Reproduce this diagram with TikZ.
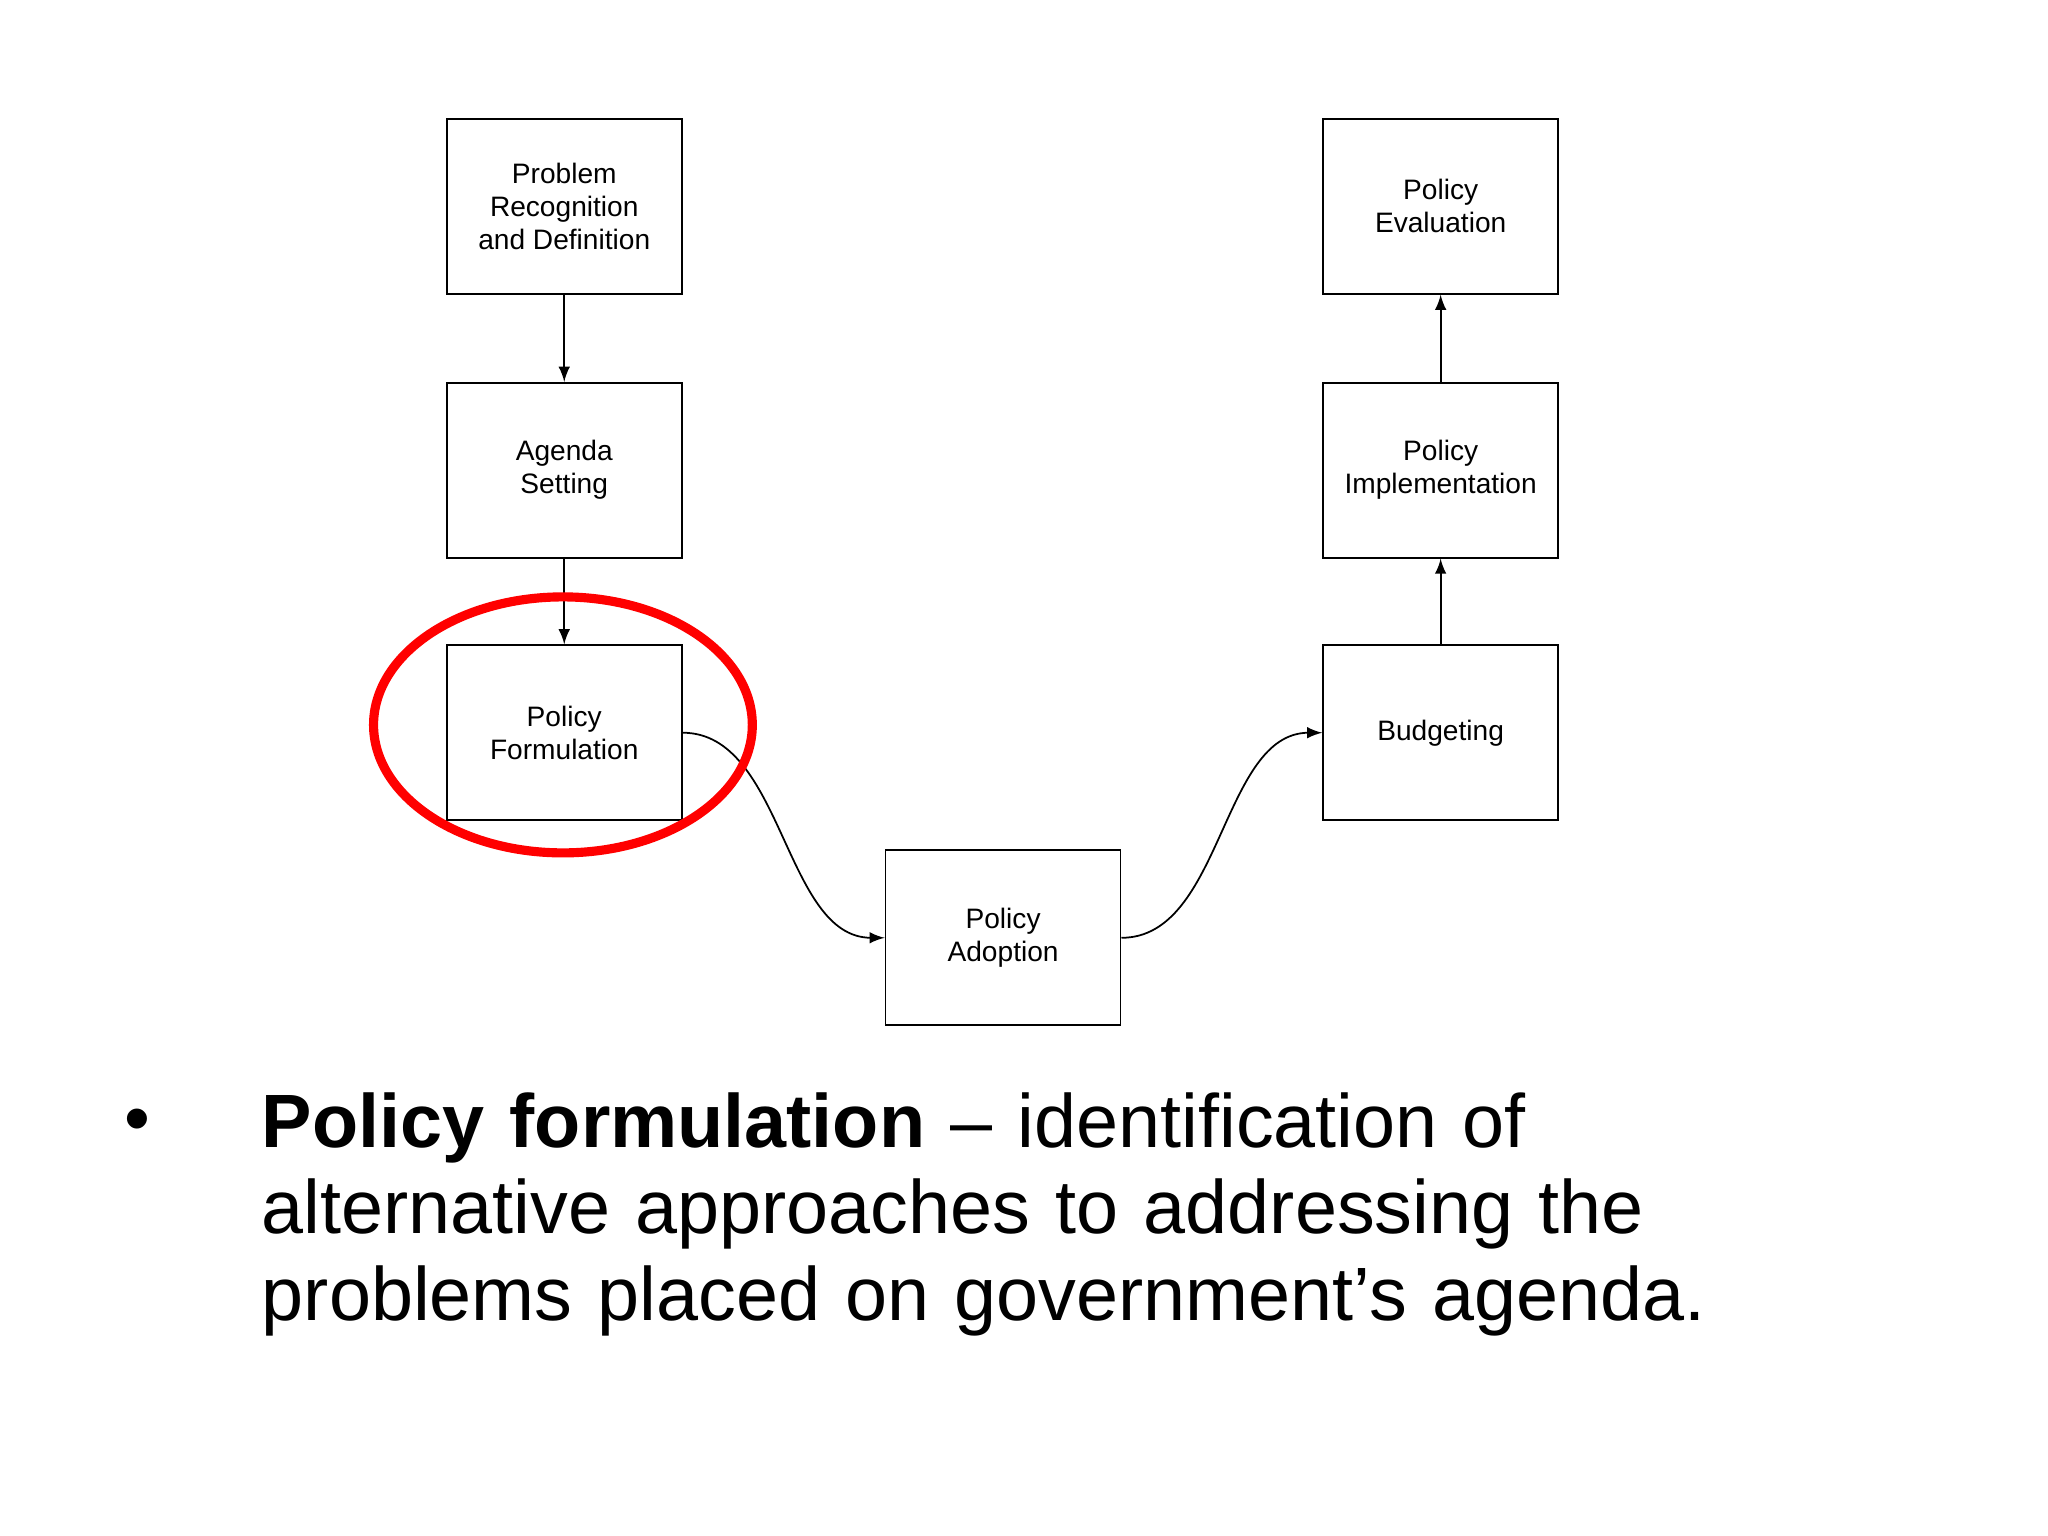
\documentclass[tikz,border=0pt]{standalone}
\usepackage{fontspec}
\setmainfont{Liberation Sans}
\begin{document}
\begin{tikzpicture}[x=0.013061cm,y=-0.013061cm,
  box/.style={draw,line width=0.5pt,minimum width=2.35cm,minimum height=1.75cm,align=center,font=\fontsize{8}{9.4}\selectfont,inner sep=0pt},
  arr/.style={-latex,line width=0.5pt}]
\useasboundingbox (0,0) rectangle (1568,1176);
\node[box] (prob) at (432,158) {Problem\\Recognition\\and Definition};
\node[box] (agen) at (432,360) {Agenda\\Setting};
\node[box] (form) at (432,561) {Policy\\Formulation};
\node[box] (adop) at (768,718) {Policy\\Adoption};
\node[box] (budg) at (1103,561) {Budgeting};
\node[box] (impl) at (1103,360) {Policy\\Implementation};
\node[box] (eval) at (1103,158) {Policy\\Evaluation};
\draw[arr] (prob) -- (agen);
\draw[arr] (agen) -- (form);
\draw[arr] (form.east) to[out=0,in=180,looseness=0.9] (adop.west);
\draw[arr] (adop.east) to[out=0,in=180,looseness=0.9] (budg.west);
\draw[arr] (budg) -- (impl);
\draw[arr] (impl) -- (eval);
\draw[red,line width=2.6pt] (431,555) ellipse [x radius=145,y radius=98];
\node[font=\fontsize{21}{24.5}\selectfont] (bul) at (105,862) {•};
\node[anchor=north west,align=left,text width=15cm,inner sep=0pt,font=\fontsize{21.5}{24.6}\selectfont] (txt) at (200,836)
{\textbf{Policy formulation} – identification of\\alternative approaches to addressing the\\problems placed on government’s agenda.};
\end{tikzpicture}
\end{document}
